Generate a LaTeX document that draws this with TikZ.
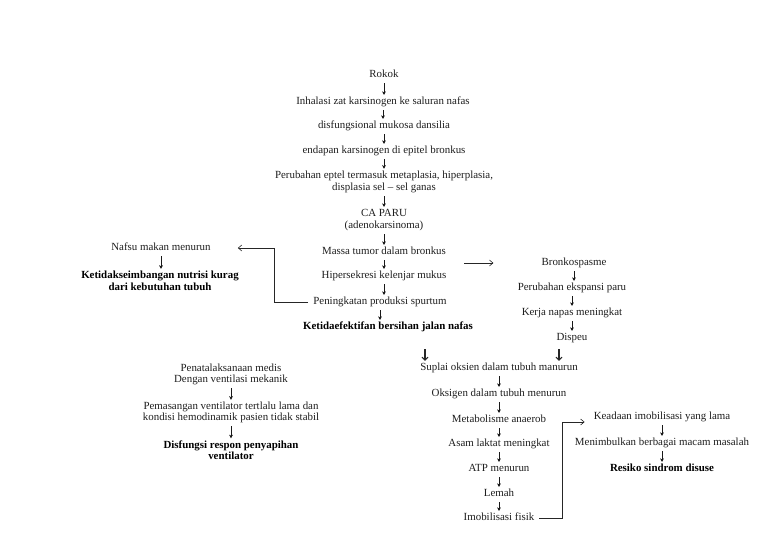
\documentclass[tikz,border=0pt]{standalone}
\usepackage{fontspec}
\setmainfont{Liberation Serif}
\usetikzlibrary{arrows.meta}
\begin{document}
\begin{tikzpicture}[x=1pt,y=-1pt,
  t/.style={inner sep=0pt, font=\fontsize{10.9}{12.6}\selectfont, text height=7.4pt, text depth=2.3pt, text=black!88},
  tb/.style={t, font=\fontsize{10.9}{12.6}\selectfont\bfseries, text=black},
  tm/.style={inner sep=0pt, align=center, font=\fontsize{10.9}{12.2}\selectfont, text=black!88},
  tmb/.style={tm, font=\fontsize{10.9}{12.2}\selectfont\bfseries, text=black},
  tn/.style={inner sep=0pt, align=center, font=\fontsize{10.9}{11.2}\selectfont, text=black!88},
  tnb/.style={tn, font=\fontsize{10.9}{11.2}\selectfont\bfseries, text=black},
  dn/.style={-{Stealth[length=3.6pt,width=3.8pt,inset=1pt]}, line width=0.6pt, shorten <=3pt, shorten >=2pt, draw=black!90},
  elb/.style={-{Straight Barb[length=3.5pt,width=6pt]}, line width=0.6pt, draw=black!85},
  thk/.style={-{Straight Barb[length=3pt,width=6pt]}, line width=1.1pt, draw=black!85, shorten >=2pt}
]
\useasboundingbox[fill=white] (0,0) rectangle (768,543);

% main column
\node[t] (n1) at (384,75) {Rokok};
\node[t] (n2) at (383,102) {Inhalasi zat karsinogen ke saluran nafas};
\node[t] (n3) at (384,126) {disfungsional mukosa dansilia};
\node[t] (n4) at (384,151) {endapan karsinogen di epitel bronkus};
\node[tm] (n5) at (384,182) {Perubahan eptel termasuk metaplasia, hiperplasia,\\displasia sel -- sel ganas};
\node[tm] (n6) at (384,220) {CA PARU\\(adenokarsinoma)};
\node[t] (n7) at (384,252) {Massa tumor dalam bronkus};
\node[t] (n8) at (384,276) {Hipersekresi kelenjar mukus};
\node[t] (n9) at (380,302) {Peningkatan produksi spurtum};
\node[tb] (n10) at (388,327) {Ketidaefektifan bersihan jalan nafas};

% left top
\node[t] (l1) at (161,248) {Nafsu makan menurun};
\node[tmb] (l2) at (160,281) {Ketidakseimbangan nutrisi kurag\\dari kebutuhan tubuh};

% right column
\node[t] (r1) at (574,263) {Bronkospasme};
\node[t] (r2) at (572,288) {Perubahan ekspansi paru};
\node[t] (r3) at (572,313) {Kerja napas meningkat};
\node[t] (r4) at (572,338) {Dispeu};

% lower left
\node[tn] (a1) at (231,374.5) {Penatalaksanaan medis\\Dengan ventilasi mekanik};
\node[tn] (a2) at (231,412.5) {Pemasangan ventilator tertlalu lama dan\\kondisi hemodinamik pasien tidak stabil};
\node[tnb] (a3) at (231,450) {Disfungsi respon penyapihan\\ventilator};

% lower centre
\node[t] (c1) at (499,368) {Suplai oksien dalam tubuh manurun};
\node[t] (c2) at (499,394) {Oksigen dalam tubuh menurun};
\node[t] (c3) at (499,420) {Metabolisme anaerob};
\node[t] (c4) at (499,444) {Asam laktat meningkat};
\node[t] (c5) at (499,469) {ATP menurun};
\node[t] (c6) at (499,494) {Lemah};
\node[t] (c7) at (499,518) {Imobilisasi fisik};

% lower right
\node[t] (e1) at (662,417) {Keadaan imobilisasi yang lama};
\node[t] (e2) at (662,443) {Menimbulkan berbagai macam masalah};
\node[tb] (e3) at (662,469) {Resiko sindrom disuse};

% vertical arrows
\foreach \a/\b in {n1/n2,n2/n3,n3/n4,n4/n5,n5/n6,n6/n7,n7/n8,n8/n9,n9/n10,
                   l1/l2,r1/r2,r2/r3,r3/r4,a1/a2,a2/a3,
                   c1/c2,c2/c3,c3/c4,c4/c5,c5/c6,c6/c7,e1/e2,e2/e3}
  \draw[dn] (\a.south) -- (\a.south |- \b.north);

% elbow to the left
\coordinate (k1) at (274,248);
\draw[elb] ([xshift=-5pt]n9.west) -| (k1) -- ([xshift=27pt]l1.east |- k1);

% arrow to Bronkospasme
\draw[elb] ([xshift=18pt]n7.east |- r1.west) -- ([xshift=-48pt]r1.west);

% thick arrows onto Suplai
\coordinate (t1) at (425,349);
\coordinate (t2) at (559,349);
\draw[thk] (t1) -- (t1 |- c1.north);
\draw[thk] (t2) -- (t2 |- c1.north);

% elbow to the right
\coordinate (k2) at (562,422);
\draw[elb] ([xshift=5pt]c7.east) -| (k2) -- ([xshift=-9pt]e1.west |- k2);
\end{tikzpicture}
\end{document}
